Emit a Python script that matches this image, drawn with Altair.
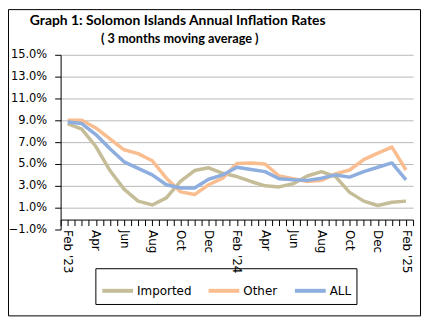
import json
import altair as alt
import pandas as pd

months = ["Feb '23", "Mar", "Apr", "May", "Jun", "Jul", "Aug", "Sep", "Oct", "Nov", "Dec", "Jan",
          "Feb '24", "Mar", "Apr", "May", "Jun", "Jul", "Aug", "Sep", "Oct", "Nov", "Dec", "Jan",
          "Feb '25"]
imported = [8.7, 8.2, 6.6, 4.4, 2.7, 1.6, 1.25, 1.9, 3.4, 4.4, 4.65, 4.15, 3.85, 3.4, 3.0, 2.9,
            3.2, 3.9, 4.3, 3.85, 2.4, 1.6, 1.2, 1.5, 1.6]
other = [9.0, 9.0, 8.3, 7.3, 6.3, 5.95, 5.3, 3.7, 2.45, 2.2, 3.1, 3.7, 5.05, 5.1, 5.0, 3.9,
         3.65, 3.4, 3.5, 4.1, 4.45, 5.4, 6.0, 6.55, 4.45]
all_items = [8.85, 8.7, 7.7, 6.4, 5.2, 4.6, 4.0, 3.1, 2.8, 2.8, 3.6, 4.0, 4.7, 4.5, 4.3, 3.65,
             3.55, 3.5, 3.7, 4.0, 3.8, 4.3, 4.7, 5.1, 3.55]
series_names = ["Imported", "Other", "ALL"]
series_colors = ["#c4bd97", "#f9bd90", "#8daede"]
y_ticks = [-1, 1, 3, 5, 7, 9, 11, 13, 15]
title1 = "Graph 1:  Solomon Islands Annual Inflation Rates"
title2 = "( 3 months moving average )"

rows = []
for name, vals in zip(series_names, [imported, other, all_items]):
    for i, v in enumerate(vals):
        rows.append({"i": i, "month": months[i], "series": name, "value": v})
df = pd.DataFrame(rows)

even_labels = [months[k] for k in range(0, len(months), 2)]
label_expr = "datum.value % 2 === 0 ? " + json.dumps(even_labels) + "[datum.value / 2] : ''"

FONT = "DejaVu Sans"

x_enc = alt.X(
    "i:Q",
    scale=alt.Scale(domain=[-0.5, 24.5], nice=False, zero=False),
    axis=alt.Axis(
        values=[-0.5 + 0.5 * k for k in range(51)],
        labelExpr=label_expr,
        labelAngle=90, labelAlign="left", labelBaseline="middle",
        tickSize=6, labelPadding=4, offset=-10,
        domainColor="black", tickColor="black", grid=False, title=None,
        labelFont=FONT, labelFontSize=12, labelColor="black",
        labelOverlap=False, labelFlush=False,
    ),
)
y_enc = alt.Y(
    "value:Q",
    scale=alt.Scale(domain=[-1, 15], nice=False, zero=False),
    axis=alt.Axis(
        values=y_ticks,
        labelExpr="format(datum.value, '.1f') + '%'",
        tickSize=6, labelPadding=8,
        domainColor="black", tickColor="black", title=None,
        grid=True, gridColor="#b8b8b8",
        gridOpacity={"condition": {"test": "datum.value < 0", "value": 0}, "value": 1},
        labelFont=FONT, labelFontSize=11.5, labelColor="black",
    ),
)
color_enc = alt.Color(
    "series:N",
    scale=alt.Scale(domain=series_names, range=series_colors),
    legend=alt.Legend(
        orient="none", legendX=35, legendY=215, direction="horizontal",
        title=None, symbolType="stroke", symbolStrokeWidth=4, symbolSize=961,
        labelFont=FONT, labelFontSize=12, labelColor="black",
        strokeColor="black", padding=5, columnPadding=9, labelOffset=2,
    ),
)

lines = [
    alt.Chart(df).transform_filter(alt.datum.series == name)
    .mark_line(strokeWidth=3.5, strokeCap="butt", strokeJoin="round")
    .encode(x=x_enc, y=y_enc, color=color_enc)
    for name in series_names
]

border = alt.Chart(pd.DataFrame({"a": [0]})).mark_rect(
    fill="transparent", stroke="black", strokeWidth=1
).encode(x=alt.value(-52.5), x2=alt.value(362.5), y=alt.value(-45.5), y2=alt.value(263))

t1 = alt.Chart(pd.DataFrame({"t": [title1]})).mark_text(
    font="Lato", fontWeight="bold", fontSize=14, align="left", baseline="alphabetic", color="black"
).encode(x=alt.value(-31), y=alt.value(-30), text="t:N")
t2 = alt.Chart(pd.DataFrame({"t": [title2]})).mark_text(
    font="Lato", fontWeight="bold", fontSize=12.8, align="center", baseline="alphabetic", color="black"
).encode(x=alt.value(120), y=alt.value(-12), text="t:N")

chart = alt.layer(border, *lines, t1, t2).properties(
    width=355, height=176,
    autosize=alt.AutoSizeParams(type="none"),
    padding={"left": 53, "top": 46, "right": 8, "bottom": 88},
).configure_view(stroke=None)

chart.save("out.html", embed_options={"renderer": "svg", "actions": False})
